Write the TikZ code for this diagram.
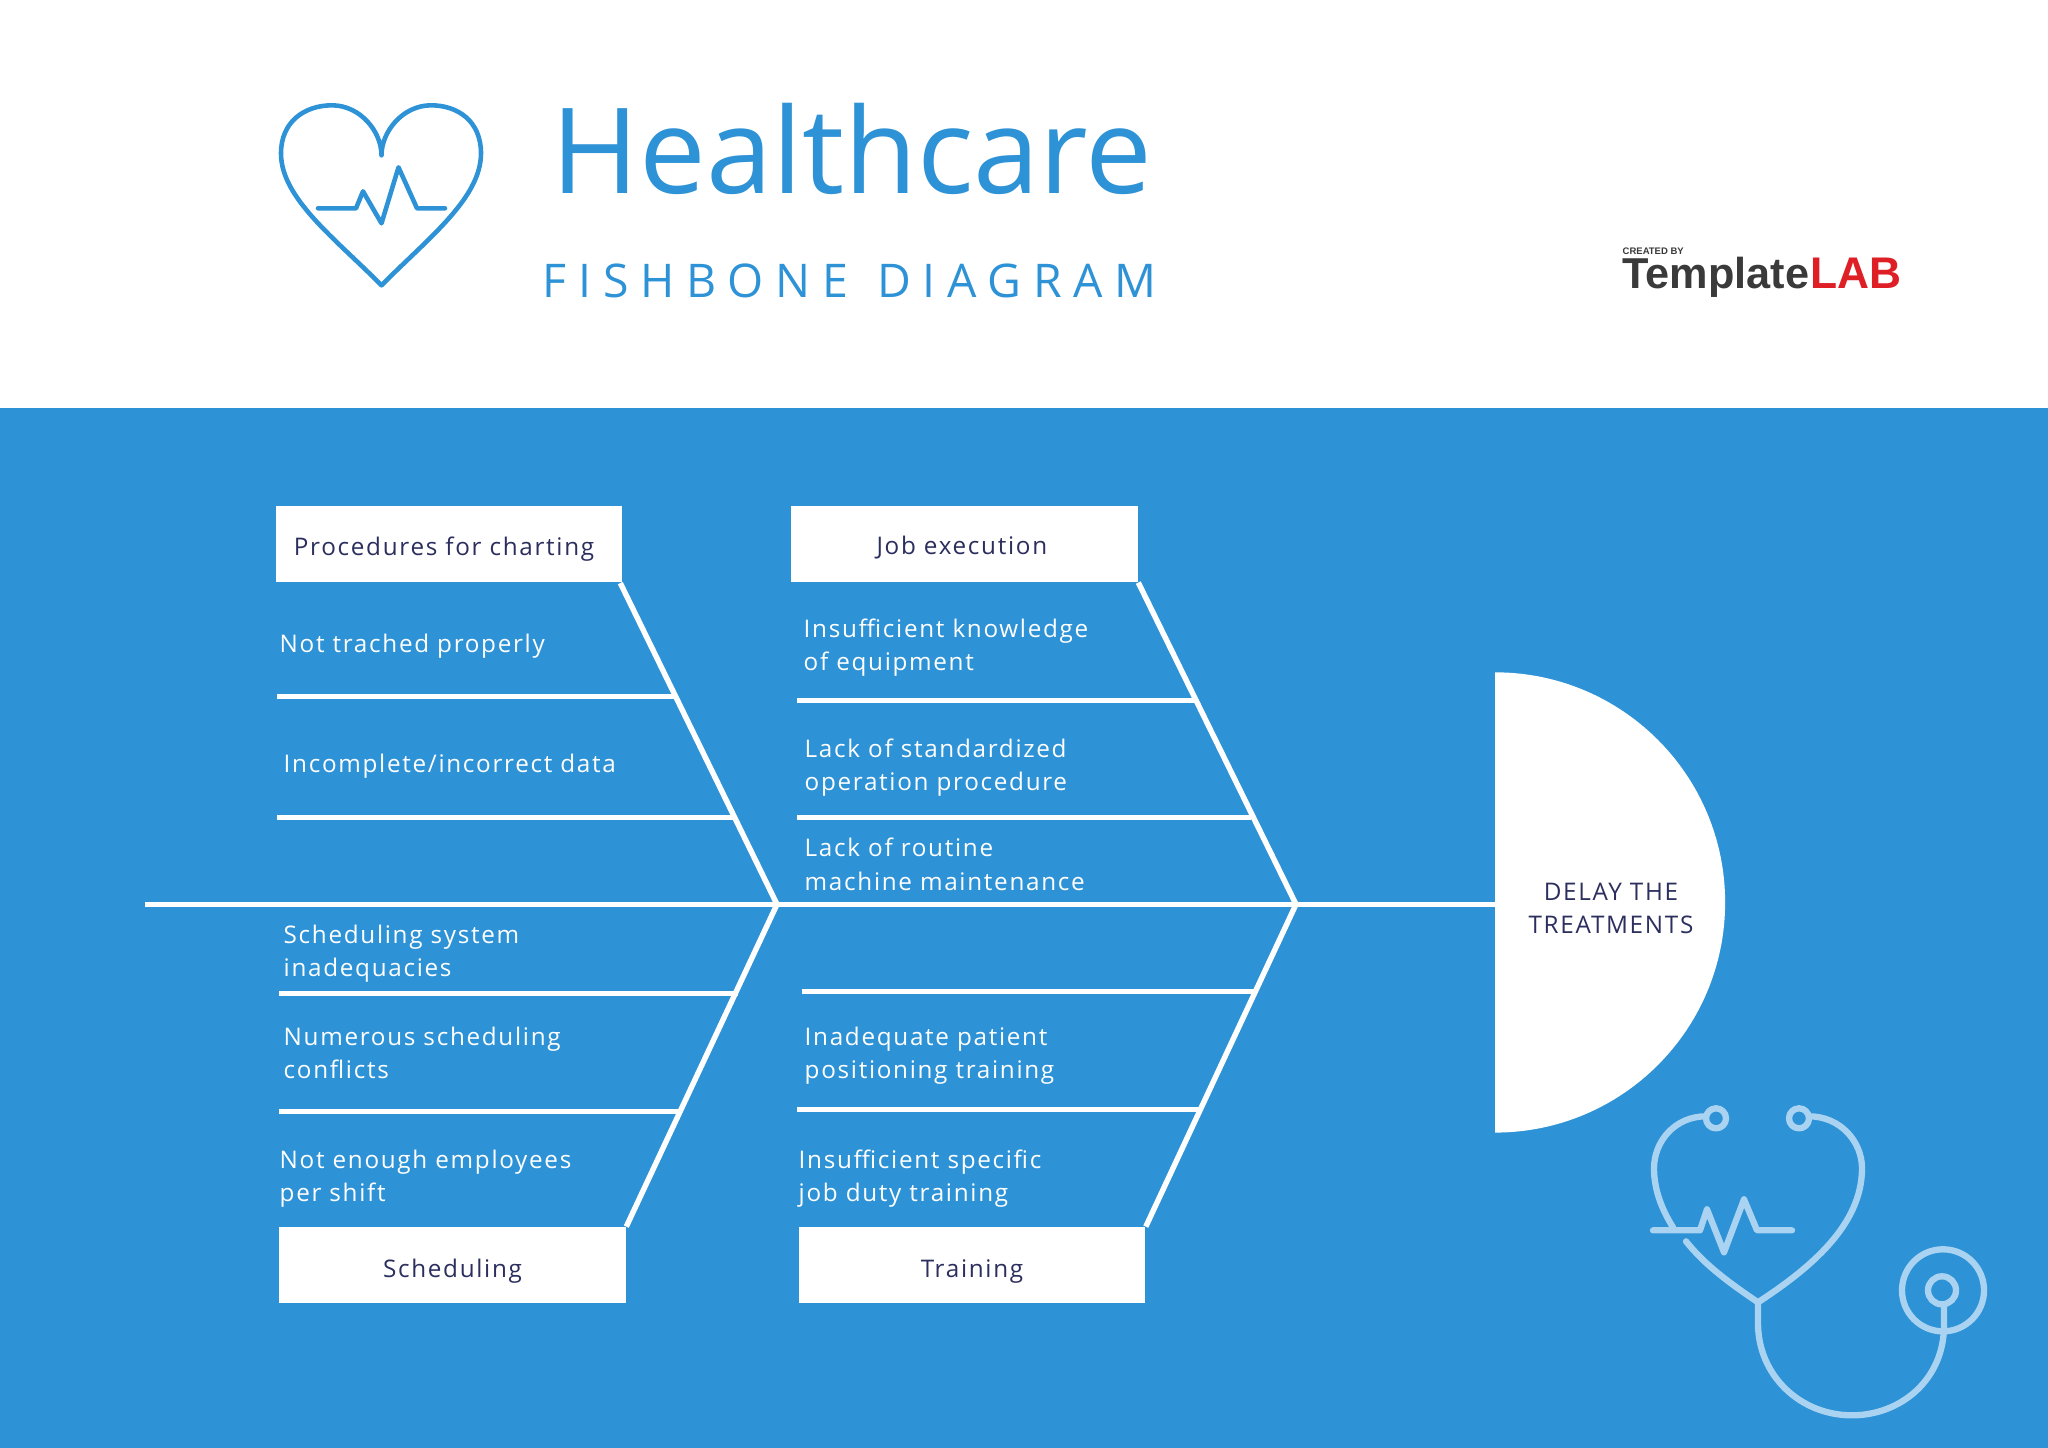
\documentclass[tikz,border=0pt]{standalone}
\usepackage{xcolor}
\usepackage{fontspec}
\usepackage{tikz}
\setmainfont{Open Sans}
\newfontfamily\bodyfont[LetterSpace=7]{Open Sans}
\newfontfamily\subfont[LetterSpace=25.2]{Open Sans}
\newfontfamily\logofont{Liberation Sans}
\definecolor{carblue}{HTML}{2D92D6}
\definecolor{inkblue}{HTML}{2C2F5E}
\definecolor{paleblue}{HTML}{A9D3F1}
\definecolor{logogray}{HTML}{3A3A3A}
\definecolor{logored}{HTML}{DE1F26}
\tikzset{
    bone/.style={draw=white,line width=1.55pt},
    headbox/.style={fill=white,minimum width=3.46cm,minimum height=0.76cm,inner sep=0pt,text height=6.15pt,text depth=0pt,text=inkblue,font=\bodyfont\fontsize{6.9}{9.4}\selectfont},
    footbox/.style={headbox,text height=6.9pt},
    causetext/.style={anchor=west,inner sep=0pt,align=left,text=white,font=\bodyfont\fontsize{6.9}{9.4}\selectfont},
    iconline/.style={line width=#1,line join=round,line cap=round}
}

\begin{document}
\begin{tikzpicture}[x=0.01cm,y=-0.01cm]
    \useasboundingbox (0,-1.3) rectangle (2048,1445.7);
    \fill[white] (0,-5) rectangle (2048,407);
    \fill[carblue] (0,407) rectangle (2048,1460);

    % Title
    \node[anchor=base west,inner sep=0pt,text=carblue,font=\fontsize{33.8}{33.8}\selectfont] (title) at (551,192) {Healthcare};
    \node[anchor=base west,inner sep=0pt,text=carblue,font=\subfont\fontsize{13.2}{13.2}\selectfont] (subtitle) at (542,296) {FISHBONE\kern1.5pt{} DIAGRAM};

    % Heart icon
    \begin{scope}[draw=carblue]
        \draw[iconline=1.3pt] (381.5,284) .. controls (335,237) and (281,197) .. (281,152)
            .. controls (281,120) and (305,104) .. (332,104)
            .. controls (360,104) and (381.5,130) .. (381.5,154)
            .. controls (381.5,130) and (403,104) .. (431,104)
            .. controls (458,104) and (481,120) .. (481,152)
            .. controls (481,197) and (428,237) .. (381.5,284) -- cycle;
        \draw[iconline=1.3pt] (318,207) -- (356,207) -- (363,190) -- (381.5,222) -- (398.5,166) -- (417,207) -- (445,207);
    \end{scope}

    % Logo
    \node[anchor=base west,inner sep=0pt,text=logogray,font=\logofont\bfseries\fontsize{2.7}{2.7}\selectfont] (created) at (1622,253) {CREATED BY};
    \node[anchor=base west,inner sep=0pt,text=logogray,font=\logofont\bfseries\fontsize{12.3}{12.3}\selectfont] (template) at (1622,287) {Template};
    \node[anchor=base west,inner sep=0pt,text=logored,font=\logofont\bfseries\fontsize{12.6}{12.6}\selectfont] (lab) at (template.base east) {LAB};

    % Joints on the spine
    \coordinate (tail) at (145,903);
    \coordinate (jointa) at (777,903);
    \coordinate (jointb) at (1296,903);
    \coordinate (headend) at (1495,903);

    % Head
    \fill[white] (1495,671) arc[start angle=90,end angle=-90,radius=2.3cm] -- cycle;
    \node[inner sep=0pt,align=center,text=inkblue,font=\bodyfont\fontsize{6.9}{9.4}\selectfont] (delay) at (1611,907) {DELAY THE\\TREATMENTS};
    \draw[bone] (tail) -- (headend);

    % Upper left
    \node[headbox] (procbox) at (449,543) {Procedures for charting\kern2.8pt};
    \draw[bone] ([xshift=-0.025cm]procbox.south east) -- (jointa);
    \coordinate (ribaa) at (277,695);
    \coordinate (ribab) at (674,695);
    \coordinate (ribac) at (277,816);
    \coordinate (ribad) at (734,816);
    \draw[bone] (ribaa) -- (ribab);
    \draw[bone] (ribac) -- (ribad);
    \node[causetext] (tracked) at (279,645.3) {Not trached properly};
    \node[causetext] (incomplete) at (283,765.3) {Incomplete/incorrect data};

    % Upper right
    \node[headbox] (jobbox) at (964.5,542.5) {Job execution\kern1.5pt};
    \draw[bone] (jobbox.south east) -- (jointb);
    \coordinate (ribba) at (797,699);
    \coordinate (ribbb) at (1195,699);
    \coordinate (ribbc) at (797,816);
    \coordinate (ribbd) at (1251,816);
    \draw[bone] (ribba) -- (ribbb);
    \draw[bone] (ribbc) -- (ribbd);
    \node[causetext] (knowledge) at (803,646.6) {Insufficient knowledge\\of equipment};
    \node[causetext] (standard) at (804,766.6) {Lack of standardized\\operation procedure};
    \node[causetext] (routine) at (804,863) {Lack of routine\\machine maintenance};

    % Lower left
    \node[footbox] (schedbox) at (452.5,1264) {Scheduling};
    \draw[bone] (schedbox.north east) -- (jointa);
    \coordinate (ribca) at (279,992);
    \coordinate (ribcb) at (738,992);
    \coordinate (ribcc) at (279,1110);
    \coordinate (ribcd) at (680,1110);
    \draw[bone] (ribca) -- (ribcb);
    \draw[bone] (ribcc) -- (ribcd);
    \node[causetext] (system) at (283,952.6) {Scheduling system\\inadequacies};
    \node[causetext] (conflicts) at (283,1051.7) {Numerous scheduling\\conflicts};
    \node[causetext] (shift) at (279,1177.6) {Not enough employees\\per shift};

    % Lower right
    \node[footbox] (trainbox) at (972,1264) {Training};
    \draw[bone] (trainbox.north east) -- (jointb);
    \coordinate (ribda) at (802,990);
    \coordinate (ribdb) at (1255,990);
    \coordinate (ribdc) at (797,1108);
    \coordinate (ribdd) at (1199,1108);
    \draw[bone] (ribda) -- (ribdb);
    \draw[bone] (ribdc) -- (ribdd);
    \node[causetext] (positioning) at (804,1054.3) {Inadequate patient\\positioning training};
    \node[causetext] (duty) at (798,1177.6) {Insufficient specific\\job duty training};

    % Stethoscope
    \begin{scope}[draw=paleblue]
        \draw[iconline=1.8pt] (1716,1117) circle[radius=0.1cm];
        \draw[iconline=1.8pt] (1799,1117) circle[radius=0.1cm];
        \draw[iconline=1.8pt] (1706,1115) .. controls (1675,1115) and (1654,1140) .. (1654,1167)
            .. controls (1654,1190) and (1663,1210) .. (1673,1226);
        \draw[iconline=1.8pt] (1686,1240) .. controls (1705,1264) and (1730,1282) .. (1758,1301);
        \draw[iconline=1.8pt] (1809,1115) .. controls (1840,1115) and (1862,1140) .. (1862,1167)
            .. controls (1862,1224) and (1810,1267) .. (1758,1301);
        \draw[iconline=1.8pt] (1758,1301) -- (1758,1322)
            .. controls (1758,1374) and (1800,1414) .. (1852,1414)
            .. controls (1900,1414) and (1944,1379) .. (1944,1324) -- (1944,1303);
        \draw[iconline=1.8pt] (1943,1289) circle[radius=0.41cm];
        \draw[iconline=1.8pt] (1942,1289) circle[radius=0.14cm];
        \draw[iconline=1.8pt] (1653,1229) -- (1700,1229) -- (1707,1208) -- (1724,1251) -- (1744,1198) -- (1757,1229) -- (1792,1229);
    \end{scope}
\end{tikzpicture}
\end{document}
